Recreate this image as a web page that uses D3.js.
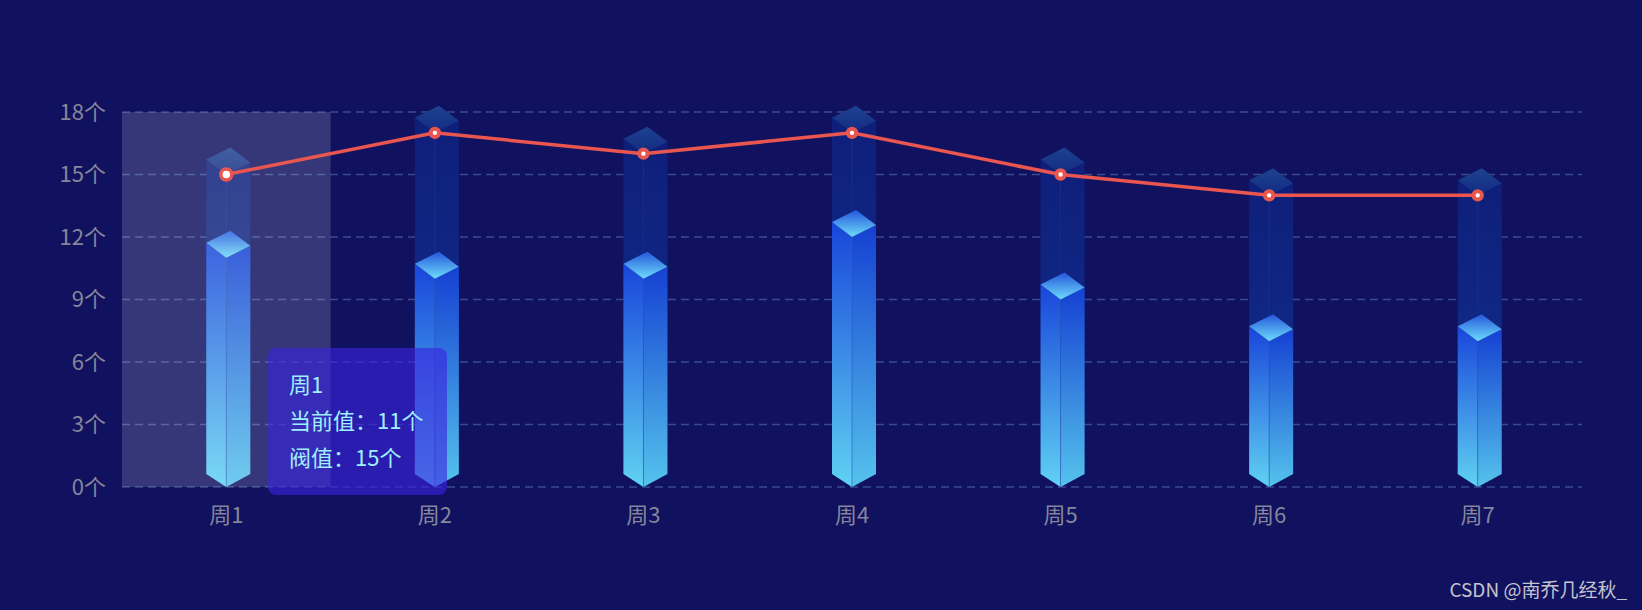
<!DOCTYPE html>
<html>
<head>
<meta charset="utf-8">
<script src="https://cdn.jsdelivr.net/npm/d3@7"></script>
<style>
    html, body { margin: 0; padding: 0; background: #10115f; }
    svg { display: block; }
    text { font-family: "Noto Sans CJK SC", "Noto Sans", sans-serif; }
</style>
</head>
<body>
<svg width="1642" height="610"></svg>
<script>
var categories = ["周1", "周2", "周3", "周4", "周5", "周6", "周7"];
var currentValues = [11, 10, 10, 12, 9, 7, 7];
var thresholdValues = [15, 17, 16, 17, 15, 14, 14];
var yTicks = [0, 3, 6, 9, 12, 15, 18];
var unit = "个";
var activeIndex = 0;

var svg = d3.select("svg"),
    margin = {top: 112, right: 60, bottom: 123, left: 122},
    width = svg.attr("width") - margin.left - margin.right,
    height = svg.attr("height") - margin.top - margin.bottom;

var x = d3.scaleBand()
    .domain(categories)
    .range([margin.left, margin.left + width])
    .padding(0);

var y = d3.scaleLinear()
    .domain([0, 18])
    .range([margin.top + height, margin.top]);

var defs = svg.append("defs");

function gradient(id, stops) {
    var g = defs.append("linearGradient")
        .attr("id", id)
        .attr("x1", 0).attr("y1", 0)
        .attr("x2", 0).attr("y2", 1);
    stops.forEach(function(s) {
        g.append("stop").attr("offset", s[0]).attr("stop-color", s[1]);
    });
}

gradient("frontLeft", [[0, "#1845da"], [1, "#60d2f2"]]);
gradient("frontRight", [[0, "#1540d2"], [1, "#55c3ec"]]);
gradient("frontTop", [[0, "#2556dc"], [1, "#6ddcfa"]]);
gradient("bgFace", [[0, "#0e1f7b"], [1, "#12308d"]]);
gradient("bgTop", [[0, "#1d4292"], [1, "#132b80"]]);

// grid
svg.append("g")
    .attr("class", "grid")
    .selectAll("line").data(yTicks).enter().append("line")
    .attr("x1", margin.left)
    .attr("x2", margin.left + width)
    .attr("y1", function(d) { return y(d); })
    .attr("y2", function(d) { return y(d); })
    .attr("stroke", "#394b8e")
    .attr("stroke-width", 1.5)
    .attr("stroke-dasharray", "8,5");

// isometric column: left face, right face, top diamond
var wl = 20, wr = 24;
function faces(cx, yv, y0) {
    return {
        left: "M" + (cx - wl) + "," + (yv - 15) + "L" + cx + "," + yv + "L" + cx + "," + y0 + "L" + (cx - wl) + "," + (y0 - 13) + "Z",
        right: "M" + cx + "," + yv + "L" + (cx + wr) + "," + (yv - 12) + "L" + (cx + wr) + "," + (y0 - 13) + "L" + cx + "," + y0 + "Z",
        top: "M" + (cx - wl) + "," + (yv - 15) + "L" + (cx + 4) + "," + (yv - 27) + "L" + (cx + wr) + "," + (yv - 12) + "L" + cx + "," + yv + "Z"
    };
}

function drawColumns(cls, values, fills) {
    var col = svg.append("g").attr("class", cls)
        .selectAll("g").data(values).enter().append("g");
    col.each(function(d, i) {
        var cx = x(categories[i]) + x.bandwidth() / 2;
        var f = faces(cx, y(d), y(0));
        var g = d3.select(this);
        g.append("path").attr("d", f.left).attr("fill", fills[0]);
        g.append("path").attr("d", f.right).attr("fill", fills[1]);
        g.append("path").attr("d", f.top).attr("fill", fills[2]);
        g.append("line")
            .attr("x1", cx).attr("x2", cx)
            .attr("y1", y(d)).attr("y2", y(0))
            .attr("stroke", fills[3]).attr("stroke-width", 1);
    });
}

drawColumns("bg-bars", thresholdValues, ["url(#bgFace)", "url(#bgFace)", "url(#bgTop)", "rgba(30,60,150,0.5)"]);
drawColumns("bars", currentValues, ["url(#frontLeft)", "url(#frontRight)", "url(#frontTop)", "rgba(40,90,190,0.6)"]);

// axis pointer shadow
svg.append("rect")
    .attr("x", x(categories[activeIndex]))
    .attr("y", y(18))
    .attr("width", x.bandwidth())
    .attr("height", y(0) - y(18))
    .attr("fill", "rgba(255,255,255,0.16)");

// threshold line
var line = d3.line()
    .x(function(d, i) { return x(categories[i]) + x.bandwidth() / 2; })
    .y(function(d) { return y(d); });

svg.append("path")
    .datum(thresholdValues)
    .attr("d", line)
    .attr("fill", "none")
    .attr("stroke", "#e95650")
    .attr("stroke-width", 3.5);

svg.append("g").selectAll("circle").data(thresholdValues).enter().append("circle")
    .attr("cx", function(d, i) { return x(categories[i]) + x.bandwidth() / 2; })
    .attr("cy", function(d) { return y(d); })
    .attr("r", function(d, i) { return i == activeIndex ? 5.5 : 4.2; })
    .attr("fill", "#ffffff")
    .attr("stroke", "#e95650")
    .attr("stroke-width", function(d, i) { return i == activeIndex ? 3.5 : 4; });

// y labels
svg.append("g").selectAll("text").data(yTicks).enter().append("text")
    .attr("x", 106)
    .attr("y", function(d) { return y(d); })
    .attr("dy", "0.36em")
    .attr("text-anchor", "end")
    .attr("fill", "#85869a")
    .attr("font-size", 22)
    .text(function(d) { return d + unit; });

// x labels
svg.append("g").selectAll("text").data(categories).enter().append("text")
    .attr("x", function(d) { return x(d) + x.bandwidth() / 2; })
    .attr("y", y(0) + 28)
    .attr("dy", "0.36em")
    .attr("text-anchor", "middle")
    .attr("fill", "#85869a")
    .attr("font-size", 22)
    .text(function(d) { return d; });

// tooltip
var tip = svg.append("g").attr("transform", "translate(268,348)");
tip.append("rect")
    .attr("width", 179)
    .attr("height", 147)
    .attr("rx", 8)
    .attr("fill", "rgba(58,36,222,0.62)");
var tipLines = [
    categories[activeIndex],
    "当前值：" + currentValues[activeIndex] + unit,
    "阀值：" + thresholdValues[activeIndex] + unit
];
tip.selectAll("text").data(tipLines).enter().append("text")
    .attr("x", 21)
    .attr("y", function(d, i) { return 37 + i * 36.5; })
    .attr("dy", "0.36em")
    .attr("fill", "#9ef0ff")
    .attr("font-size", 22)
    .text(function(d) { return d; });

// watermark
svg.append("text")
    .attr("x", 1627)
    .attr("y", 597)
    .attr("text-anchor", "end")
    .attr("fill", "#c4c4cc")
    .attr("font-size", 19)
    .text("CSDN @南乔几经秋_");
</script>
</body>
</html>
